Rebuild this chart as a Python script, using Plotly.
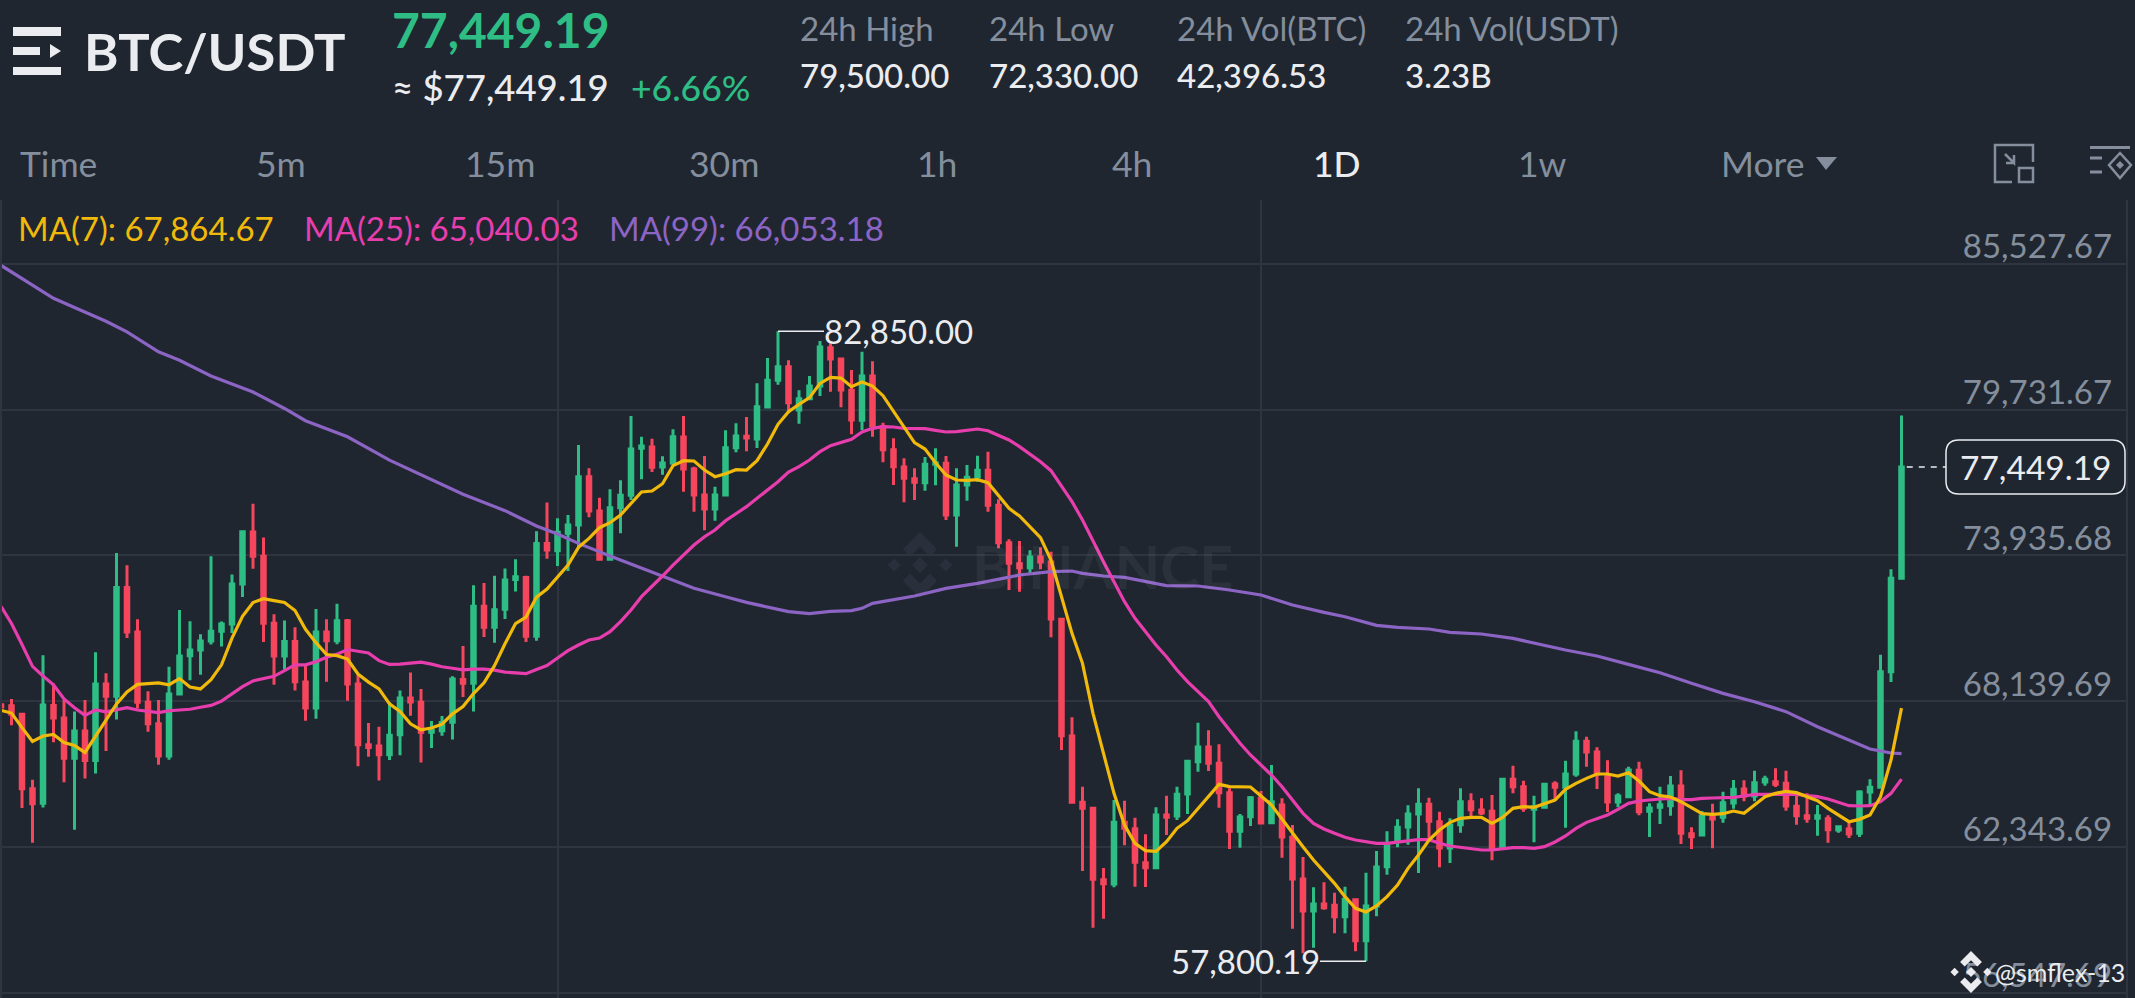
from plotly import graph_objects as chart

FONT = 'Lato'
BG = '#1F2630'
GRID = '#2E3440'
UP = '#2EBD85'
DOWN = '#F6465D'
WHITE = '#EAECEF'
GRAY = '#848E9C'
W = 2135
H = 998
LEFT, RIGHT, TOP = 2, 2126, 200

opens = [68003,67957,67623,64657,64079,67973,67471,65874,66953,65782,68824,68338,72657,70893,68094,67242,65965,68429,69950,70178,70528,70923,71212,72794,74863,73904,71243,69935,70513,68900,67866,70893,70543,71334,68824,66406,66360,66010,66801,68262,68094,66908,66969,67303,69007,68855,71912,71075,71790,72977,73053,70726,74406,
	74123,74812,75143,77064,75700,73778,75832,76322,78191,78244,77449,77608,78641,77369,76336,75779,76336,78217,78668,78562,79834,80894,81437,79714,80165,80668,82192,81742,80496,79304,81066,79052,78138,77449,76985,76826,77555,77594,75541,76733,77051,77316,75925,74441,73606,73447,73871,73672,71394,66756,64119,63881,61045,60873,63324,63072,61721,61522,63616,63576,64450,65736,66319,65669,64503,62966,63549,64278,63311,64013,62728,61072,59800,60078,60025,59574,60250,58620,59998,61562,62582,63139,63655,64040,63351,62304,63231,64146,63814,63761,62330,65033,64742,
	63840,63920,64847,64715,65245,66543,66119,65139,64132,64344,65391,63761,63920,63986,64768,62873,62820,63549,63522,64092,64649,64370,64927,64940,64874,63960,63589,63483,63469,63019,63059,62886,64529,64720,69311,73025]
highs = [68033,68231,67653,65022,69965,68840,68185,67729,68185,70087,69250,74026,73539,71395,68535,68185,69509,71760,71319,70802,73904,71304,73174,74893,75988,74650,71593,71349,71075,69554,71805,71395,72018,71410,69174,67273,67121,68109,68566,69281,68627,67349,67547,69129,70330,72748,72840,73129,73418,73783,73129,74893,76034,
	75408,75541,78323,77396,76230,76561,76919,79476,78654,78575,77873,78946,79476,77462,77886,76667,78906,79184,79436,80774,81781,82850,81689,80496,81066,82457,82364,81768,81304,82033,81649,79211,78588,77793,77396,77846,78191,77886,77396,77528,77899,78058,76163,74573,74507,74136,74255,74083,71420,67498,64742,63947,61509,64212,64185,63510,62847,63920,64384,64742,65775,67286,66981,66425,64676,63655,64371,64570,65603,64278,63218,61946,60740,60939,60528,60767,60263,61323,62185,62966,63443,64000,64676,64305,63748,63483,64676,64477,64278,64411,65073,65577,64980,
	64384,64847,64953,65775,66941,66729,66305,65788,64476,65536,65735,64079,64741,65165,65391,63125,63774,64066,64543,65006,64993,65377,65179,65470,65377,64410,64476,64013,63602,63165,63310,64596,65033,69985,73386,79500]
lows = [67881,67182,63896,62512,63911,66512,64915,63029,65067,65265,66163,67410,70650,67851,66923,65615,65813,68383,68976,69189,70391,70315,70847,72277,73403,70497,68794,69402,68566,67364,67440,68916,70406,68155,65554,65934,64991,65798,65995,67562,65706,66284,66771,66619,68307,67729,70695,70467,71410,72505,70497,70543,73798,
	73513,73315,74216,75448,73752,73725,74812,76137,76958,77250,77144,77528,76468,75673,74931,75315,76309,78032,78071,78204,79807,80721,79582,79171,80112,80271,80443,79820,78747,78919,78654,77634,76733,76044,76137,76508,76720,75342,74282,76110,76866,75673,74216,72559,72493,73156,73381,70678,66199,64079,61390,59137,59495,60740,62410,60767,60754,61509,62821,63417,63655,65338,65365,63907,62264,62317,63178,63258,63311,61920,59097,58117,58342,59853,58912,58912,58196,57800.19,59588,61244,62330,62436,61310,62622,61535,61708,62913,63549,63616,61814,62317,64477,63748,
	62529,63880,64211,63112,65139,65536,64649,63734,63920,64291,63602,62741,63257,63589,62462,62264,62807,62290,63310,63867,64158,64158,64781,64728,63787,63231,63310,62794,62515,62913,62701,62741,64013,64680,68904,72990]
closes = [67912,67623,64657,64064,67988,67471,65874,66953,65782,68824,68338,72657,70893,68094,67242,65965,68429,69935,70178,70528,70923,71212,72794,74878,73904,71243,69935,70513,68916,67866,70893,70543,71334,68824,66406,66299,66010,66786,68262,68109,66908,66984,67288,69022,68855,71912,71075,71775,72961,73083,70726,74406,74148,
	74852,75143,77064,75700,73778,75832,76322,78164,78283,77435,77608,78654,77369,76336,75779,76336,78217,78681,78601,79847,80894,81437,80006,80165,80668,82219,81742,80509,79317,81066,79078,78138,77462,76998,76839,77555,77621,75541,76733,77038,77316,75925,74441,73619,73447,73871,73672,71407,66769,64119,63881,61058,60886,63324,63086,61734,61522,63616,63523,64437,65749,66319,65669,64503,62966,63536,64305,63298,64146,62741,61072,59800,60078,59932,59574,60263,58620,59998,61549,62436,63125,63655,64040,63364,62304,63218,64146,63828,63695,62304,65033,64742,63881,
	63946,64834,64715,65245,66543,66119,65245,64132,64370,65404,63748,63893,64026,64768,62886,62754,63575,63456,64105,64635,64370,64900,65033,64834,63973,63589,63483,63589,63032,63151,62860,64529,64715,69311,73025,77449.19]

ma7 = [67775,67668,67090,66543,66756,66817,66497,66376,66102,66741,67364,68033,68505,68809,68840,68870,68794,69037,68703,68627,68992,69585,70650,71516,72064,72216,72140,72064,71745,70999,70467,69995,69950,69813,69220,68900,68627,68033,67729,67242,66999,67075,67227,67638,67927,68444,68870,69554,70421,71227,71486,72277,72596,
	73090,73553,74255,74613,75037,75236,75541,76004,76455,76495,76786,77502,77700,77687,77329,77064,77184,77343,77329,77700,78363,79145,79648,79940,80205,80774,81013,80986,80642,80827,80668,80284,79648,79025,78416,78164,77621,77131,76932,76919,76945,76826,76309,75806,75501,75077,74640,73752,72294,70837,69645,67657,66067,64477,63218,62489,62198,62171,62556,63086,63390,63881,64384,64835,64742,64742,64729,64371,64013,63457,62887,62357,61827,61363,60899,60369,59906,59760,59998,60369,60833,61496,62026,62622,63019,63324,63483,63523,63523,63284,63523,63881,63947,
	63920,64052,64211,64635,64874,65073,65245,65245,65165,65298,64967,64543,64384,64331,64145,63907,63668,63642,63668,63774,63681,64013,64344,64476,64556,64503,64344,64185,63880,63615,63350,63443,63615,64344,65801,67864.67]
ma25 = [71912,71227,70391,69524,69144,68794,68231,67881,67577,67790,67714,67805,67881,67790,67729,67684,67760,67805,67820,67897,67973,68140,68444,68718,68946,69052,69129,69357,69585,69585,69706,69889,70011,70193,70132,70056,69752,69600,69615,69661,69691,69615,69509,69448,69387,69418,69418,69372,69296,69265,69235,69402,69554,69859,
	70148,70373,70572,70651,70903,71301,71764,72294,72692,73116,73553,73951,74348,74679,74944,75315,75580,75872,76203,76534,76866,77250,77462,77727,78058,78297,78416,78548,78840,78986,79052,79039,78986,78972,78972,78906,78840,78853,78906,78959,78893,78721,78522,78257,77952,77661,77303,76667,76071,75342,74481,73686,72891,72096,71433,70903,70373,69909,69379,68916,68518,68121,67524,66995,66465,66001,65603,65206,64742,64212,63682,63285,63059,62887,62728,62622,62569,62490,62490,62543,62596,62635,62635,62490,62384,62331,62251,62225,62225,62278,62317,62317,
	62290,62357,62542,62781,63085,63324,63483,63615,63841,64079,64172,64225,64251,64278,64225,64225,64278,64291,64291,64318,64370,64437,64437,64437,64450,64437,64384,64344,64251,64106,63986,63973,63986,64145,64476,65040.03]
ma99_days = [0,3,5,7,10,12,15,17,20,24,27,29,33,37,40,44,48,51,53,55,58,61,63,66,69,71,75,77,79,81,82,83,87,90,93,97,100,102,103,105,107,110,111,114,117,120,123,126,128,131,133,136,138,141,144,149,152,155,158,161,164,167,170,173,176,178,179,180,181]
ma99 = [85464,84658,84156,83791,83243,82818,82027,81692,81068,80430,79776,79289,78650,77722,77144,76368,75714,75106,74785,74414,73911,73421,73089,72626,72294,72069,71698,71619,71711,71738,71831,72029,72321,72626,72824,73156,73288,73315,73222,73116,73063,72825,72732,72719,72559,72361,71963,71672,71499,71155,71076,71009,70877,70811,70638,70174,69935,69604,69273,68849,68452,68120,67723,67127,66596,66239,66159,66080,66053.18]

price_ticks = [85527.67,79731.67,73935.68,68139.69,62343.69,56547.69]
price_labels = ['85,527.67','79,731.67','73,935.68','68,139.69','62,343.69','56,547.69']
split_days = [53.05,120]
peak_label, peak_day, peak_price = '82,850.00', 74, 82850.00
low_label, low_day, low_price = '57,800.19', 130, 57800.19
last_label, last_price = '77,449.19', 77449.19

days = list(range(len(closes)))


def px(x):
	return (x-LEFT)/(RIGHT-LEFT)


def py(y):
	return (H-y)/(H-TOP)


def day_at(x):
	return (x-1)/10.5


def paper_path(points, close=True):
	d = ' '.join(('M' if n == 0 else 'L')+' %.5f %.5f' % (px(x),py(y)) for n,(x,y) in enumerate(points))
	return d+(' Z' if close else '')


def label(x, y, text, size, color, anchor='left', weight=400):
	return dict(xref='paper', yref='paper', x=px(x), y=py(y), text=text, showarrow=False, xanchor=anchor, yanchor='middle',
		font=dict(family=FONT, size=size, color=color, weight=weight))


def diamond(cx, cy, r, color, layer='above'):
	return dict(type='path', xref='paper', yref='paper', layer=layer, fillcolor=color, line=dict(width=0),
		path=paper_path([(cx,cy-r),(cx+r,cy),(cx,cy+r),(cx-r,cy)]))


def logo(cx, cy, r, color, layer='above'):
	out = [diamond(cx,cy,r*0.24,color,layer)]
	out.append(diamond(cx-r*0.78,cy,r*0.2,color,layer))
	out.append(diamond(cx+r*0.78,cy,r*0.2,color,layer))
	for s in (-1,1):
		pts = [(cx,cy+s*r),(cx+r*0.52,cy+s*r*0.48),(cx+r*0.3,cy+s*r*0.26),(cx,cy+s*r*0.56),(cx-r*0.3,cy+s*r*0.26),(cx-r*0.52,cy+s*r*0.48)]
		out.append(dict(type='path', xref='paper', yref='paper', layer=layer, fillcolor=color, line=dict(width=0), path=paper_path(pts)))
	return out


fig = chart.Figure()
fig.add_trace(chart.Candlestick(
	x=days, open=opens, high=highs, low=lows, close=closes,
	increasing=dict(line=dict(color=UP,width=3),fillcolor=UP),
	decreasing=dict(line=dict(color=DOWN,width=3),fillcolor=DOWN),
	whiskerwidth=0, hoverinfo='skip'
))
fig.add_trace(chart.Scatter(x=ma99_days,y=ma99,mode='lines',line=dict(color='#8C64C4',width=3.2),hoverinfo='skip'))
fig.add_trace(chart.Scatter(x=days,y=ma25,mode='lines',line=dict(color='#E83EAD',width=3.2),hoverinfo='skip'))
fig.add_trace(chart.Scatter(x=days,y=ma7,mode='lines',line=dict(color='#F0B90B',width=3.2),hoverinfo='skip'))

texts = [
	label(82,51,'BTC/USDT',52.5,WHITE,weight=700),
	label(390,29.5,'77,449.19',48,UP,weight=700),
	label(390,87,'≈ $77,449.19',36.5,WHITE,weight=500),
	label(629,87,'+6.66%',35.5,UP,weight=500),
	label(798,28,'24h High',33,GRAY),
	label(798,75,'79,500.00',33,WHITE,weight=500),
	label(987,28,'24h Low',33,GRAY),
	label(987,75,'72,330.00',33,WHITE,weight=500),
	label(1175,28,'24h Vol(BTC)',33,GRAY),
	label(1175,75,'42,396.53',33,WHITE,weight=500),
	label(1403,28,'24h Vol(USDT)',33,GRAY),
	label(1403,75,'3.23B',33,WHITE,weight=500),
	label(18,164,'Time',35.5,GRAY),
	label(254,164,'5m',35.5,GRAY),
	label(463,164,'15m',35.5,GRAY),
	label(687,164,'30m',35.5,GRAY),
	label(915,164,'1h',35.5,GRAY),
	label(1110,164,'4h',35.5,GRAY),
	label(1311,164,'1D',35.5,WHITE,weight=500),
	label(1516,164,'1w',35.5,GRAY),
	label(1719,164,'More',35.5,GRAY),
	label(16,228,'MA(7): 67,864.67',33,'#F0B90B'),
	label(302,228,'MA(25): 65,040.03',33,'#E83EAD'),
	label(607,228,'MA(99): 66,053.18',33,'#8C64C4'),
	label(970,566,'BINANCE',59,'rgba(255,255,255,0.05)',weight=700),
	label(2036,467,last_label,33.5,WHITE,anchor='center'),
	label(1993,972,'@smflex-13',25,WHITE),
	dict(x=day_at(822),y=peak_price,text=peak_label,showarrow=False,xanchor='left',yanchor='middle',font=dict(family=FONT,size=33,color=WHITE)),
	dict(x=day_at(1322),y=low_price,text=low_label,showarrow=False,xanchor='right',yanchor='middle',font=dict(family=FONT,size=33,color=WHITE)),
]

lines = [
	dict(type='line',x0=peak_day,x1=day_at(824),y0=peak_price,y1=peak_price,line=dict(color=WHITE,width=1.5)),
	dict(type='line',x0=low_day,x1=day_at(1320),y0=low_price,y1=low_price,line=dict(color=WHITE,width=1.5)),
	dict(type='line',x0=days[-1]+0.5,x1=day_at(1946),y0=last_price,y1=last_price,line=dict(color=WHITE,width=1.5,dash='6px,6px')),
]

# header and toolbar glyphs
glyphs = []
for y0,y1,x1 in ((27,36,61),(47,55,40),(67,75,61)):
	glyphs.append(dict(type='rect',xref='paper',yref='paper',x0=px(13),x1=px(x1),y0=py(y0),y1=py(y1),fillcolor=WHITE,line=dict(width=0)))
glyphs.append(dict(type='path',xref='paper',yref='paper',fillcolor=WHITE,line=dict(width=0),path=paper_path([(50,44),(61,51),(50,58)])))
glyphs.append(dict(type='path',xref='paper',yref='paper',fillcolor=GRAY,line=dict(width=0),path=paper_path([(1816,157),(1837,157),(1826,170)])))
icon_line = dict(color=GRAY,width=2.5)
glyphs.append(dict(type='path',xref='paper',yref='paper',line=icon_line,path=paper_path([(2012,182),(1995,182),(1995,145),(2033,145),(2033,162)],False)))
glyphs.append(dict(type='rect',xref='paper',yref='paper',x0=px(2019),x1=px(2033),y0=py(168),y1=py(182),line=icon_line))
glyphs.append(dict(type='path',xref='paper',yref='paper',line=icon_line,path=paper_path([(2005,154),(2014,163),(2014,155),(2014,163),(2006,163)],False)))
glyphs.append(dict(type='rect',xref='paper',yref='paper',x0=px(2090),x1=px(2130),y0=py(146),y1=py(149),fillcolor=GRAY,line=dict(width=0)))
for y in (158,172):
	glyphs.append(dict(type='rect',xref='paper',yref='paper',x0=px(2090),x1=px(2102),y0=py(y-1.5),y1=py(y+1.5),fillcolor=GRAY,line=dict(width=0)))
glyphs.append(dict(type='path',xref='paper',yref='paper',line=icon_line,path=paper_path([(2120,153),(2131,165),(2120,178),(2109,165)])))
glyphs.append(diamond(2120,165,4,GRAY))
# rounded box round the last price
r = 13
box = 'M %.5f %.5f ' % (px(1946+r),py(440))
box += 'L %.5f %.5f Q %.5f %.5f %.5f %.5f ' % (px(2125-r),py(440),px(2125),py(440),px(2125),py(440+r))
box += 'L %.5f %.5f Q %.5f %.5f %.5f %.5f ' % (px(2125),py(494-r),px(2125),py(494),px(2125-r),py(494))
box += 'L %.5f %.5f Q %.5f %.5f %.5f %.5f ' % (px(1946+r),py(494),px(1946),py(494),px(1946),py(494-r))
box += 'L %.5f %.5f Q %.5f %.5f %.5f %.5f Z' % (px(1946),py(440+r),px(1946),py(440),px(1946+r),py(440))
glyphs.append(dict(type='path',xref='paper',yref='paper',path=box,line=dict(color=WHITE,width=1.5),fillcolor=BG))

fig.update_layout(
	width=W, height=H,
	margin=dict(l=LEFT,r=W-RIGHT,t=TOP,b=0,pad=0),
	paper_bgcolor=BG, plot_bgcolor=BG,
	showlegend=False, boxgap=0.52,
	font=dict(family=FONT),
	annotations=texts,
	shapes=lines+glyphs+logo(920,565,33,'#2A303B','below')+logo(1971,972,21,WHITE),
	xaxis=dict(
		range=[day_at(LEFT),day_at(RIGHT)],
		rangeslider=dict(visible=False),
		tickvals=split_days, showticklabels=False, ticks='',
		showgrid=True, gridcolor=GRID, gridwidth=1.5, zeroline=False,
		showline=False
	),
	yaxis=dict(
		range=[56341.4,88062.9], side='right',
		tickvals=price_ticks, ticktext=price_labels,
		ticklabelposition='inside top', ticklabelstandoff=17, ticklabelshift=6, ticks='',
		tickfont=dict(family=FONT,size=33,color=GRAY),
		showgrid=True, gridcolor=GRID, gridwidth=1.5, zeroline=False,
		showline=True, linecolor=GRID, linewidth=1.5, mirror=True
	)
)

fig.write_html("out.html", config={'displayModeBar':False}, post_script="document.body.style.margin='0';document.body.style.overflow='hidden';")
